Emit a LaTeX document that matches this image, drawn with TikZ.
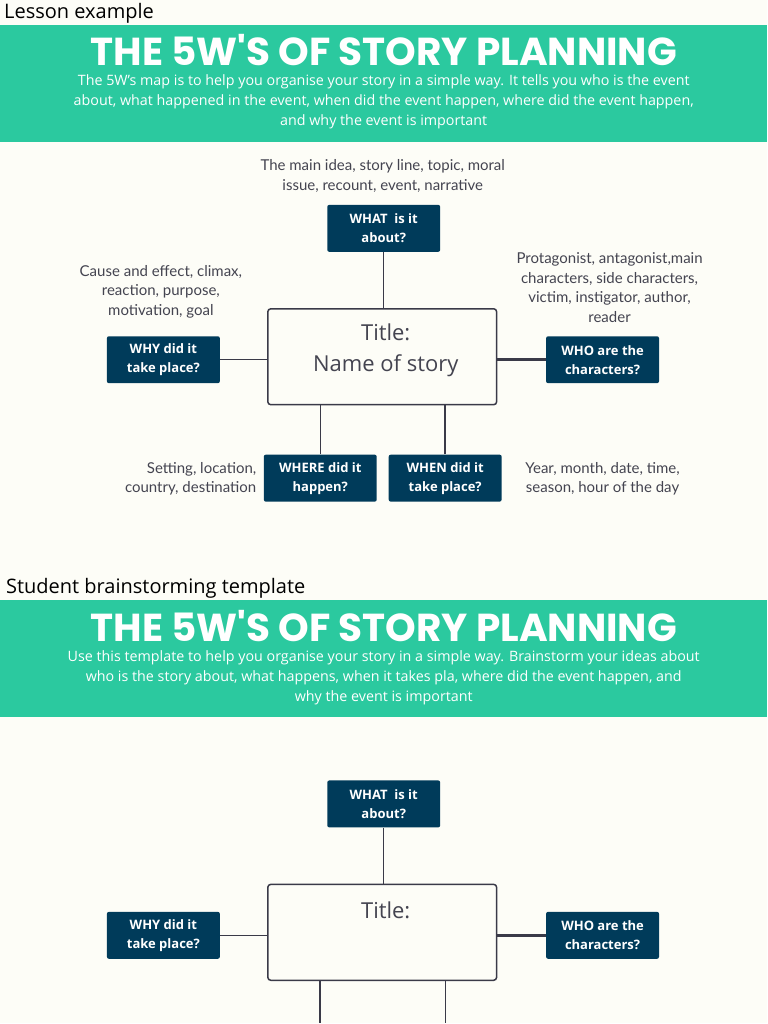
\documentclass[tikz,border=0pt]{standalone}
\usepackage{fontspec}
\setmainfont{Open Sans}
\newfontfamily\headfont{Poppins}
\newfontfamily\bodyfont{Lato}
\definecolor{bg}{HTML}{FDFDF7}
\definecolor{band}{HTML}{2BC99F}
\definecolor{navy}{HTML}{003B5A}
\definecolor{txt}{HTML}{444450}
\definecolor{edge}{HTML}{3A3A48}
\begin{document}
\begin{tikzpicture}[x=1pt,y=-1pt,
  qbox/.style={fill=navy,rounded corners=2pt,minimum width=113pt,minimum height=47pt,text=white,font=\fontsize{13}{19}\selectfont\bfseries,align=center,inner sep=0pt},
  tbox/.style={draw=edge,line width=1.5pt,fill=bg,rounded corners=3pt,minimum width=229pt,minimum height=96pt,inner sep=0pt},
  note/.style={text=txt,font=\bodyfont\fontsize{15}{19.5}\selectfont,align=center},
  sub/.style={text=white,font=\fontsize{14.3}{20}\selectfont,align=center,inner sep=0pt},
  hd/.style={text=white,font=\headfont\bfseries\fontsize{39}{39}\selectfont,inner sep=0pt},
  lab/.style={font=\fontsize{20}{20}\selectfont,anchor=west,inner sep=0pt},
  conn/.style={draw=edge,line width=1.5pt}]
\fill[bg] (0,0) rectangle (768,1024);
% ---------- Lesson example
\node[lab] (l1) at (4,13) {Lesson example};
\fill[band] (0,25) rectangle (768,142);
\node[hd] (h1) at (384,50) {THE 5W'S OF STORY PLANNING};
\node[sub] (s1) at (384,102) {The 5W's map is to help you organise your story in a simple way. It tells you who is the event\\about, what happened in the event, when did the event happen, where did the event happen,\\and why the event is important};
\node[note] (n1) at (383,176) {The main idea, story line, topic, moral\\issue, recount, event, narrative};
\node[qbox] (what1) at (384,228.5) {WHAT~ is it\\about?};
\node[tbox] (t1) at (382.5,357) {};
\node[text=txt,font=\fontsize{22}{31}\selectfont,align=center] (tt1) at (386,351) {Title:\\Name of story};
\node[qbox] (why1) at (163.5,360) {WHY did it\\take place?};
\node[qbox] (who1) at (603,360) {WHO are the\\characters?};
\node[qbox] (where1) at (320.5,478.5) {WHERE did it\\happen?};
\node[qbox] (when1) at (445.5,478.5) {WHEN did it\\take place?};
\node[note] (n2) at (161,292) {Cause and effect, climax,\\reaction, purpose,\\motivation, goal};
\node[note] (n3) at (610,288) {Protagonist, antagonist,main\\characters, side characters,\\victim, instigator, author,\\reader};
\node[note,align=right,anchor=east] (n4) at (260,479) {Setting, location,\\country, destination};
\node[note] (n5) at (603,479) {Year, month, date, time,\\season, hour of the day};
\draw[conn] (what1.south) -- (t1.north -| what1.south);
\draw[conn] (why1.east) -- (t1.west |- why1.east);
\draw[conn,line width=2.5pt] (t1.east |- who1.west) -- (who1.west);
\draw[conn] (where1.north) -- (where1.north |- t1.south);
\draw[conn] (when1.north) -- (when1.north |- t1.south);
% ---------- Student template
\node[lab] (l2) at (6,589) {Student brainstorming template};
\fill[band] (0,600) rectangle (768,718);
\node[hd] (h2) at (384,626) {THE 5W'S OF STORY PLANNING};
\node[sub] (s2) at (384,678) {Use this template to help you organise your story in a simple way. Brainstorm your ideas about\\who is the story about, what happens, when it takes pla, where did the event happen, and\\why the event is important};
\node[qbox] (what2) at (384,804.5) {WHAT~ is it\\about?};
\node[tbox] (t2) at (382.5,933) {};
\node[text=txt,font=\fontsize{22}{31}\selectfont] (tt2) at (386,911) {Title:};
\node[qbox] (why2) at (163.5,936) {WHY did it\\take place?};
\node[qbox] (who2) at (603,936) {WHO are the\\characters?};
\coordinate (e1) at (320,1024);
\coordinate (e2) at (446,1024);
\draw[conn] (what2.south) -- (t2.north -| what2.south);
\draw[conn] (why2.east) -- (t2.west |- why2.east);
\draw[conn,line width=2.5pt] (t2.east |- who2.west) -- (who2.west);
\draw[conn] (e1 |- t2.south) -- (e1);
\draw[conn] (e2 |- t2.south) -- (e2);
\end{tikzpicture}
\end{document}
